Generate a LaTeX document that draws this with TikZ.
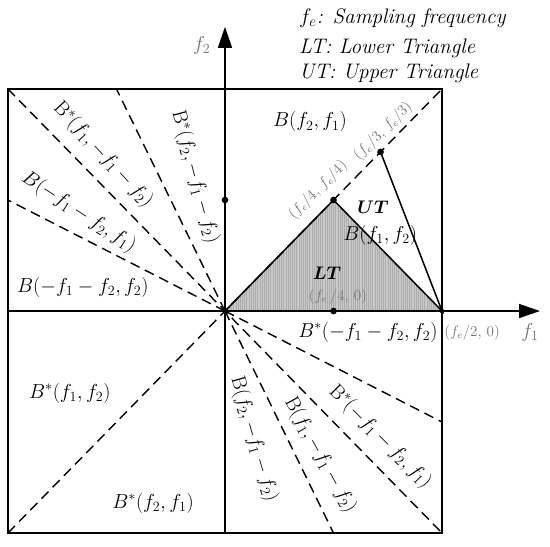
\documentclass[tikz,border=0pt]{standalone}
\usepackage{amsmath}
\usetikzlibrary{arrows.meta}

\tikzset{
  region/.style={font=\fontsize{17.28}{20}\selectfont, inner sep=1pt},
  tri/.style={font=\fontsize{14.4}{17}\selectfont, inner sep=1pt, scale=1.08, transform shape},
  ptlabel/.style={text=black!55, font=\fontsize{12}{14}\selectfont, inner sep=1pt, scale=1.07, transform shape},
  keyline/.style={anchor=west, font=\fontsize{17.28}{20}\itshape, scale=1.04, transform shape},
  bnd/.style={dash pattern=on 3mm off 1.8mm, line width=1.2pt},
  dotmark/.style={circle, fill, inner sep=0pt, minimum size=2mm},
  axis/.style={line width=1.2pt, -{Triangle[length=6.3mm,width=4.2mm]}},
}

\begin{document}
\begin{tikzpicture}[x=1.085cm, y=1.11cm]
\useasboundingbox (-6.22,-6.351) rectangle (8.985,8.405);

\coordinate (O) at (0,0);
\coordinate (A) at (3,3);
\coordinate (C) at (4.3,4.3);
\coordinate (E) at (6,0);
\coordinate (Q) at (3,0);
\coordinate (P) at (0,3);

\begin{scope}
\clip (O) -- (A) -- (E) -- cycle;
\fill[black!21] (0,0) rectangle (6,3);
\foreach \i in {0,0.06,...,6}
  \draw[black!33, line width=0.35pt] (\i,0) -- (\i,3);
\end{scope}
\draw[line width=1.5pt] (-6,-6) rectangle (6,6);

\draw[axis] (-6,0) coordinate (xs) -- (8.71,0) coordinate (xe);
\draw[axis] (0,-6) coordinate (ys) -- (0,7.68) coordinate (ye);
\node[text=black!55, font=\fontsize{17.28}{20}\selectfont] (f1) at (8.43,-0.59) {$f_1$};
\node[text=black!55, font=\fontsize{17.28}{20}\selectfont] (f2) at (-0.64,7.19) {$f_2$};

\draw[bnd] (-6,-6) -- (6,6);
\draw[bnd] (-6,6) -- (6,-6);
\draw[bnd] (O) -- (-3,6);
\draw[bnd] (O) -- (-6,3);
\draw[bnd] (O) -- (6,-3);
\draw[bnd] (O) -- (3,-6);

\draw[line width=1.3pt] (O) -- (A) -- (E) -- (C);

\foreach \p in {A,C,Q,P}
  \node[dotmark] at (\p) {};
\node[dotmark, minimum size=1.4mm] at (E) {};
\node[dotmark, minimum size=1.4mm] at (O) {};

\node[ptlabel, rotate=45] (lA) at (2.57,3.27) {$(f_e/4,\,f_e/4)$};
\node[ptlabel, rotate=45] (lC) at (4.37,4.86) {$(f_e/3,\,f_e/3)$};
\node[ptlabel] (lQ) at (3.12,0.38) {$(f_e\,/4,\,0)$};
\node[ptlabel] (lE) at (6.83,-0.59) {$(f_e/2,\,0)$};

\node[tri] (ut) at (4.09,2.81) {$\boldsymbol{UT}$};
\node[tri] (lt) at (2.82,1.03) {$\boldsymbol{LT}$};
\node[region] at (4.29,2.05) {$B(f_1,f_2)$};
\node[region] at (2.35,5.11) {$B(f_2,f_1)$};
\node[region] at (3.95,-0.57) {$B^*(-f_1-f_2,f_2)$};

\node[region] at (-3.93,0.65) {$B(-f_1-f_2,f_2)$};
\node[region, rotate=-33] at (-4.04,2.68) {$B(-f_1-f_2,f_1)$};
\node[region, rotate=-47] at (-3.37,4.22) {$\mathrm{B}^*(f_1,-f_1-f_2)$};
\node[region, rotate=-75] at (-0.83,3.62) {$\mathrm{B}^*(f_2,-f_1-f_2)$};

\node[region, rotate=-74] at (0.8,-3.46) {$\mathrm{B}(f_2,-f_1-f_2)$};
\node[region, rotate=-61] at (2.63,-3.89) {$\mathrm{B}(f_1,-f_1-f_2)$};
\node[region, rotate=-45] at (4.29,-3.4) {$\mathrm{B}^*(-f_1-f_2,f_1)$};

\node[region] at (-4.29,-2.22) {$B^*(f_1,f_2)$};
\node[region] at (-1.99,-5.19) {$B^*(f_2,f_1)$};

\node[keyline] (k1) at (1.93,7.92) {$f_e$: Sampling frequency};
\node[keyline] (k2) at (1.93,7.11) {LT: Lower Triangle};
\node[keyline] (k3) at (1.93,6.43) {UT: Upper Triangle};

\end{tikzpicture}
\end{document}
